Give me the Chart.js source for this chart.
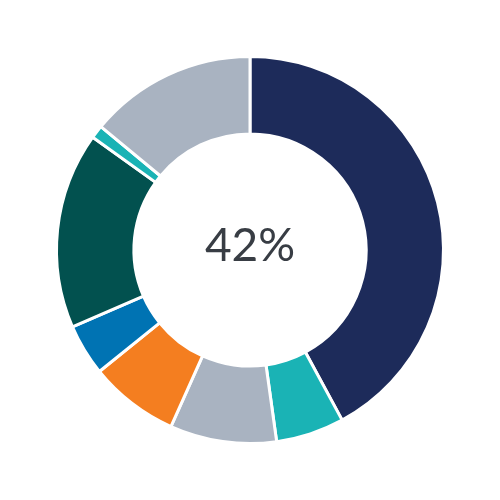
<!DOCTYPE html>
<html>
<head>
<meta charset="utf-8">
<script src="https://cdn.jsdelivr.net/npm/chart.js@4/dist/chart.umd.min.js"></script>
<style>
html,body{margin:0;padding:0;background:#fff;}
#wrap{width:500px;height:500px;}
</style>
</head>
<body>
<div id="wrap"><canvas id="c" width="500" height="500"></canvas></div>
<script>
const categories = ["A","B","C","D","E","F","G","H"];
const values = [42.1, 5.7, 8.9, 7.5, 4.3, 16.4, 1.1, 14.0];
const colors = ["#1d2b5a","#1ab3b5","#a9b3c1","#f47e20","#0073b3","#02514f","#1ab3b5","#a9b3c1"];
const centerLabel = "42%";

const centerText = {
  id: 'centerText',
  afterDraw(chart) {
    const {ctx} = chart;
    const meta = chart.getDatasetMeta(0);
    const arc = meta.data[0];
    ctx.save();
    ctx.font = '400 46px Lato, "Open Sans", sans-serif';
    ctx.fillStyle = '#383d44';
    ctx.textAlign = 'center';
    ctx.textBaseline = 'middle';
    ctx.fillText(centerLabel, arc.x, arc.y - 4);
    ctx.restore();
  }
};

new Chart(document.getElementById('c'), {
  type: 'doughnut',
  data: {
    labels: categories,
    datasets: [{
      data: values,
      backgroundColor: colors,
      borderColor: '#ffffff',
      borderWidth: 3,
      hoverOffset: 0
    }]
  },
  options: {
    responsive: false,
    animation: false,
    cutout: '60%',
    layout: { padding: 55 },
    plugins: { legend: { display: false }, tooltip: { enabled: false } }
  },
  plugins: [centerText]
});
</script>
</body>
</html>
